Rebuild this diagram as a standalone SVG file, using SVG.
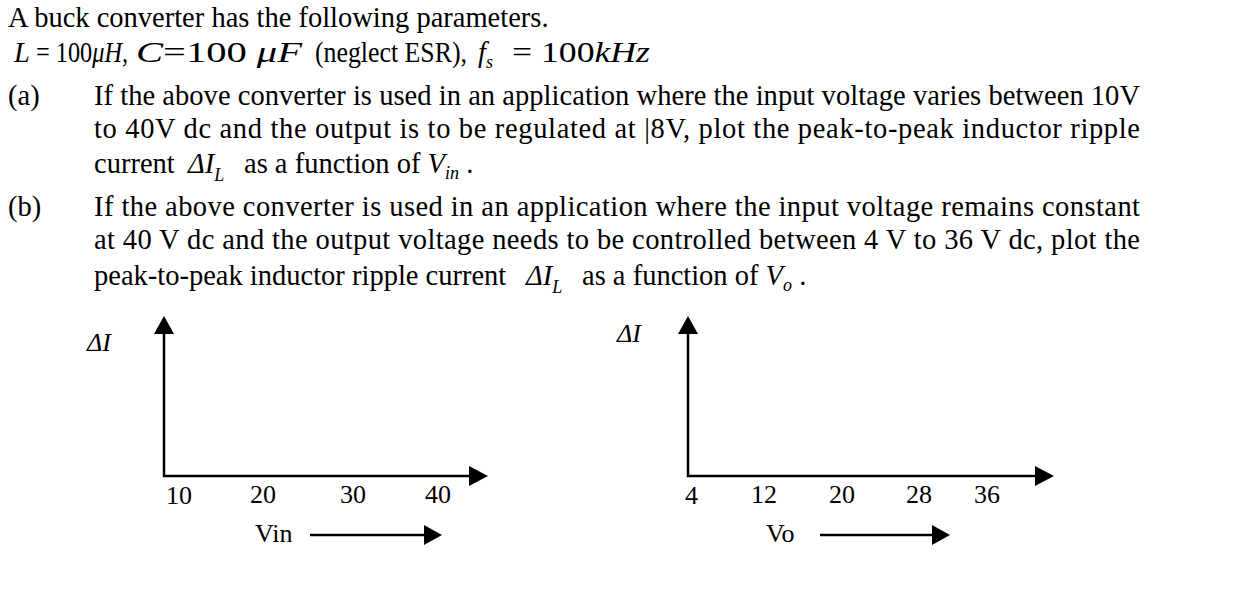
<svg xmlns="http://www.w3.org/2000/svg" width="1236" height="592" viewBox="0 0 1236 592">
<style>
text{font-family:"Liberation Serif","Times New Roman",serif;font-size:28.5px;fill:#000}
.i{font-style:italic}
.t{font-size:26px}
.ax{stroke:#000;stroke-width:2.5;fill:none}
.ah{fill:#000}
</style>
<rect width="1236" height="592" fill="#fff"/>
<g id="text">
<text x="8" y="27">A buck converter has the following parameters.</text>
<text class="i" x="14" y="62">L</text>
<text x="36" y="62" textLength="92" lengthAdjust="spacingAndGlyphs">= 100<tspan class="i">μH</tspan>,</text>
<text x="136" y="62" textLength="166" lengthAdjust="spacingAndGlyphs"><tspan class="i">C</tspan>=100 <tspan class="i">μF</tspan></text>
<text x="315" y="62" textLength="152" lengthAdjust="spacingAndGlyphs">(neglect ESR),</text>
<text class="i" x="478" y="62">f<tspan font-size="18" dy="6">s</tspan></text>
<text x="512" y="62" textLength="138" lengthAdjust="spacingAndGlyphs">= 100<tspan class="i">kHz</tspan></text>
<text x="8" y="105">(a)</text>
<text x="94" y="105" textLength="1046" lengthAdjust="spacing">If the above converter is used in an application where the input voltage varies between 10V</text>
<text x="94" y="138" textLength="1046" lengthAdjust="spacing">to 40V dc and the output is to be regulated at |8V, plot the peak-to-peak inductor ripple</text>
<text y="173"><tspan x="94">current</tspan><tspan x="188" class="i">ΔI</tspan><tspan class="i" font-size="18" dy="8">L</tspan><tspan x="244" dy="-8">as a function of </tspan><tspan class="i">V</tspan><tspan class="i" font-size="18" dy="6">in</tspan><tspan dy="-6"> .</tspan></text>
<text x="8" y="216">(b)</text>
<text x="94" y="216" textLength="1046" lengthAdjust="spacing">If the above converter is used in an application where the input voltage remains constant</text>
<text x="94" y="249" textLength="1046" lengthAdjust="spacing">at 40 V dc and the output voltage needs to be controlled between 4 V to 36 V dc, plot the</text>
<text y="285"><tspan x="94">peak-to-peak inductor ripple current</tspan><tspan x="526" class="i">ΔI</tspan><tspan class="i" font-size="18" dy="8">L</tspan><tspan x="582" dy="-8">as a function of </tspan><tspan class="i">V</tspan><tspan class="i" font-size="18" dy="6">o</tspan><tspan dy="-6"> .</tspan></text>
</g>
<g id="graph-a">
<path class="ax" d="M164,334 V476 H470"/>
<polygon class="ah" points="164,316 154,334 174,334"/>
<polygon class="ah" points="488,476 469,466 469,486"/>
<text class="i t" x="87" y="351">ΔI</text>
<text class="t" x="166" y="504">10</text>
<text class="t" x="250" y="503">20</text>
<text class="t" x="340" y="503">30</text>
<text class="t" x="425" y="503">40</text>
<text class="t" x="255" y="542">Vin</text>
<path class="ax" d="M310,535 H424"/>
<polygon class="ah" points="442,535 424,525 424,545"/>
</g>
<g id="graph-b">
<path class="ax" d="M688,334 V476 H1036"/>
<polygon class="ah" points="688,316 678,334 698,334"/>
<polygon class="ah" points="1054,476 1035,466 1035,486"/>
<text class="i t" x="617" y="342">ΔI</text>
<text class="t" x="685" y="504">4</text>
<text class="t" x="751" y="503">12</text>
<text class="t" x="829" y="503">20</text>
<text class="t" x="906" y="503">28</text>
<text class="t" x="974" y="503">36</text>
<text class="t" x="766" y="542">Vo</text>
<path class="ax" d="M820,535 H932"/>
<polygon class="ah" points="950,535 932,525 932,545"/>
</g>
</svg>
